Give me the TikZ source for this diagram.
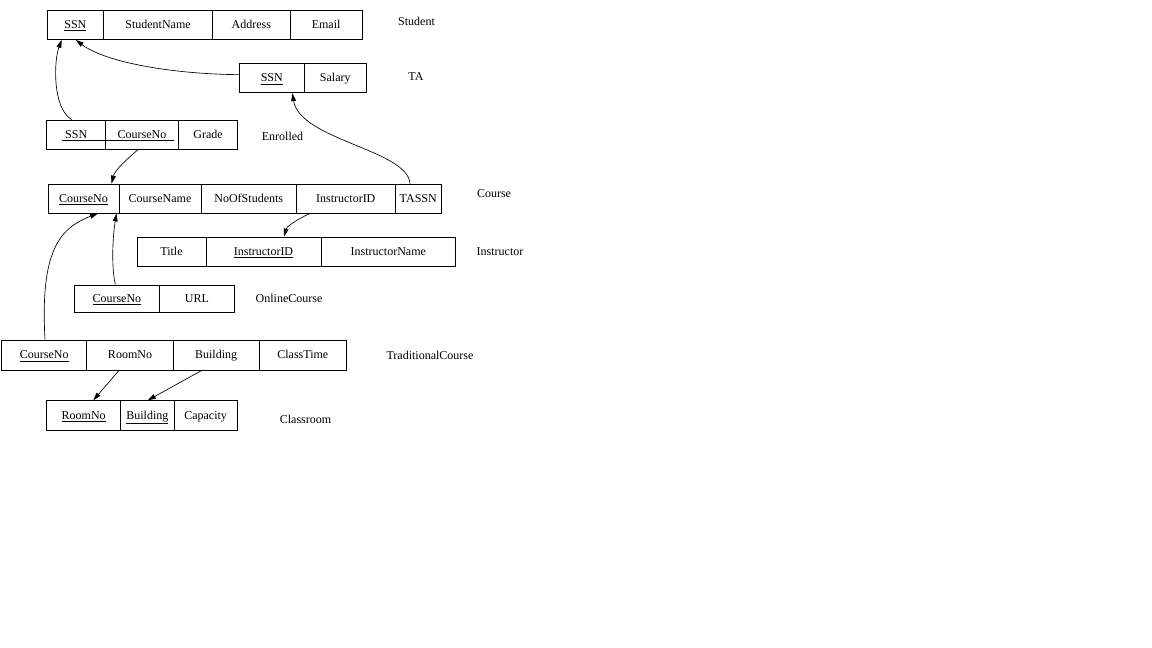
\documentclass[tikz,border=0pt]{standalone}
\usepackage{fontspec}
\setmainfont{Liberation Serif}
\usetikzlibrary{arrows.meta,calc}
\tikzset{
  cell/.style={draw, line width=0.6pt, inner sep=0pt, text height=6.3pt, text depth=0.5pt, font=\fontsize{9}{11}\selectfont},
  lbl/.style={inner sep=0pt, font=\fontsize{9}{11}\selectfont},
  fk/.style={line width=0.5pt, -{Triangle[length=6pt,width=3.6pt]}},
}
\newcommand\rcell[6]{\node[cell, minimum width={(#3-#2)*0.75pt}, minimum height={(#5-#4)*0.75pt}] (#1) at ({(#2+#3)/2},{(#4+#5)/2}) {#6};}
\begin{document}
\begin{tikzpicture}[x=0.75pt,y=-0.75pt]
\useasboundingbox (0,0) rectangle (1152,648);
% Student
\rcell{s1}{47}{103.7}{10}{39.5}{\underline{SSN}}
\rcell{s2}{103.7}{212.3}{10}{39.5}{StudentName}
\rcell{s3}{212.3}{290.3}{10}{39.5}{Address}
\rcell{s4}{290.3}{362}{10}{39.5}{Email}
\node[lbl] (lStudent) at (416.5,21) {Student};
% TA
\rcell{ta1}{239.3}{304.3}{63.3}{92.7}{\underline{SSN}}
\rcell{ta2}{304.3}{366.3}{63.3}{92.7}{Salary}
\node[lbl] (lTA) at (416,77) {TA};
% Enrolled
\rcell{e1}{46.7}{105.7}{120}{149.3}{SSN}
\rcell{e2}{105.7}{178.3}{120}{149.3}{CourseNo}
\rcell{e3}{178.3}{237.7}{120}{149.3}{Grade}
\node[lbl] (lEnrolled) at (282.5,136.5) {Enrolled};
\draw[line width=0.5pt] (62,140.7) -- (174,140.7);
% Course
\rcell{c1}{48}{119}{184}{213}{\underline{CourseNo}}
\rcell{c2}{119}{201}{184}{213}{CourseName}
\rcell{c3}{201}{296.5}{184}{213}{NoOfStudents}
\rcell{c4}{296.5}{395}{184}{213}{InstructorID}
\rcell{c5}{395}{441.5}{184}{213}{TASSN}
\node[lbl] (lCourse) at (494,194) {Course};
% Instructor
\rcell{i1}{137}{206}{237}{266.5}{Title}
\rcell{i2}{206}{321}{237}{266.5}{\underline{InstructorID}}
\rcell{i3}{321}{455.5}{237}{266.5}{InstructorName}
\node[lbl] (lInstructor) at (500,252) {Instructor};
% OnlineCourse
\rcell{o1}{74.5}{159.3}{285}{312}{\underline{CourseNo}}
\rcell{o2}{159.3}{234.6}{285}{312}{URL}
\node[lbl] (lOnline) at (289,298) {OnlineCourse};
% TraditionalCourse
\rcell{t1}{1.7}{86.7}{340}{370}{\underline{CourseNo}}
\rcell{t2}{86.7}{173.3}{340}{370}{RoomNo}
\rcell{t3}{173.3}{259}{340}{370}{Building}
\rcell{t4}{259}{346.7}{340}{370}{ClassTime}
\node[lbl] (lTrad) at (430,355) {TraditionalCourse};
% Classroom
\rcell{cl1}{46.7}{120.7}{400.7}{430}{\underline{RoomNo}}
\rcell{cl2}{120.7}{174}{400.7}{430}{\underline{Building}}
\rcell{cl3}{174}{237.3}{400.7}{430}{Capacity}
\node[lbl] (lClass) at (305.5,419) {Classroom};
% connectors
\draw[fk] ([xshift=-3.4pt]e1.north) .. controls (52,108) and (54,60) .. ([xshift=-10.2pt]s1.south);
\draw[fk] ([yshift=2.5pt]ta1.west) .. controls (170,74) and (105,62) .. ([xshift=0.3pt]s1.south);
\draw[fk] ([xshift=-6.2pt]c5.north) .. controls (408,150) and (300,140) .. ([xshift=15.4pt]ta1.south);
\draw[fk] ([xshift=-3pt]e2.south) .. controls (126,160) and (115,170) .. ([xshift=21pt]c1.north);
\draw[fk] ([xshift=-26.8pt]c4.south) .. controls (298,219) and (287,226) .. ([xshift=15.4pt]i2.north);
\draw[fk] ([xshift=-1.2pt]o1.north) .. controls (111,265) and (113,235) .. ([xshift=24.7pt]c1.south);
\draw[fk] ([xshift=0.6pt]t1.north) .. controls (40,250) and (60,228) .. ([xshift=10.9pt]c1.south);
\draw[fk] ([xshift=-8.25pt]t2.south) -- ([xshift=7.2pt]cl1.north);
\draw[fk] ([xshift=-10.8pt]t3.south) -- ([xshift=0.3pt]cl2.north);
\end{tikzpicture}
\end{document}
